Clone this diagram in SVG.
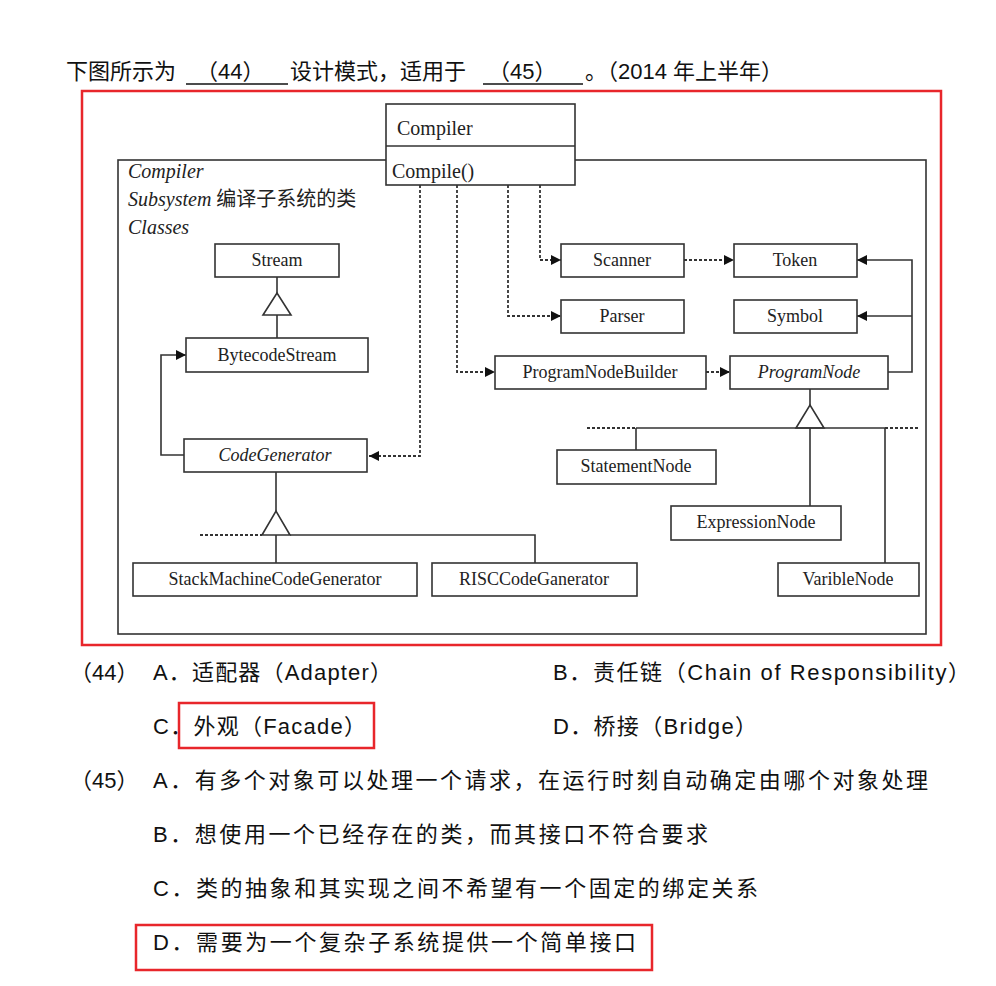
<svg xmlns="http://www.w3.org/2000/svg" width="996" height="986" viewBox="0 0 996 986">
<defs>
<style>
.t{font-family:"Liberation Sans","Noto Sans CJK SC",sans-serif;font-size:22px;fill:#111}
.n{font-family:"Liberation Serif","Noto Sans CJK SC",serif;font-size:18px;fill:#222;text-anchor:middle}
.i{font-style:italic}
.box{fill:#fff;stroke:#333;stroke-width:1.6}
.ln{fill:none;stroke:#333;stroke-width:1.6}
.dt{fill:none;stroke:#333;stroke-width:1.8;stroke-dasharray:3,2}
.red{fill:none;stroke:#e8262b;stroke-width:2.5}
</style>
<marker id="a" viewBox="0 0 10 10" refX="10" refY="5" markerWidth="10" markerHeight="10" markerUnits="userSpaceOnUse" orient="auto"><path d="M0,0L10,5L0,10z" fill="#111"/></marker>
</defs>
<rect width="996" height="986" fill="#fff"/>
<g id="title">
<text class="t" x="66" y="79">下图所示为<tspan x="196">（44）</tspan><tspan x="290">设计模式，适用于</tspan><tspan x="488">（45）</tspan><tspan x="585">。（2014 年上半年）</tspan></text>
<line x1="186" y1="84" x2="288" y2="84" stroke="#111" stroke-width="1.5"/>
<line x1="483" y1="84" x2="583" y2="84" stroke="#111" stroke-width="1.5"/>
</g>
<rect class="red" x="82" y="91" width="859" height="554"/>
<g id="frame">
<rect x="118" y="160" width="808" height="474" fill="none" stroke="#333" stroke-width="1.6"/>
<text class="n i" style="text-anchor:start;font-size:20px" x="128" y="178">Compiler</text>
<text class="n i" style="text-anchor:start;font-size:20px" x="128" y="206">Subsystem <tspan font-style="normal">编译子系统的类</tspan></text>
<text class="n i" style="text-anchor:start;font-size:20px" x="128" y="234">Classes</text>
</g>
<g id="connectors">
<path class="dt" d="M420,185V456H369" marker-end="url(#a)"/>
<path class="dt" d="M457,185V372H495" marker-end="url(#a)"/>
<path class="dt" d="M508,185V316H561" marker-end="url(#a)"/>
<path class="dt" d="M540,185V260H561" marker-end="url(#a)"/>
<path class="dt" d="M684,260H734" marker-end="url(#a)"/>
<path class="dt" d="M706,372H730" marker-end="url(#a)"/>
<path class="ln" d="M888,372H912V260H857" marker-end="url(#a)"/>
<path class="ln" d="M912,316H857" marker-end="url(#a)"/>
<path class="ln" d="M184,455H161V355H186" marker-end="url(#a)"/>
<path class="ln" d="M277,277V293M277,315V338"/>
<path class="ln" d="M263,315L277,293L291,315Z" fill="#fff"/>
<path class="ln" d="M276,472V511M276,535V563M290,535H535V563"/>
<path class="dt" d="M200,535H262"/>
<path class="ln" d="M262,535L276,511L290,535Z" fill="#fff"/>
<path class="ln" d="M810,389V405M636,428H885M636,428V450M810,428V506M885,428V563"/>
<path class="dt" d="M587,428H636M885,428H918"/>
<path class="ln" d="M796,428L810,405L824,428Z" fill="#fff"/>
</g>
<g id="compiler">
<rect class="box" x="386" y="104" width="189" height="81"/>
<line class="ln" x1="386" y1="146" x2="575" y2="146"/>
<text class="n" style="text-anchor:start;font-size:20px" x="397" y="135">Compiler</text>
<text class="n" style="text-anchor:start;font-size:20px" x="392" y="178">Compile()</text>
</g>
<g id="stream"><rect class="box" x="215" y="244" width="124" height="33"/><text class="n" x="277" y="266">Stream</text></g>
<g id="bytecodestream"><rect class="box" x="186" y="338" width="182" height="34"/><text class="n" x="277" y="361">BytecodeStream</text></g>
<g id="codegenerator"><rect class="box" x="184" y="439" width="183" height="33"/><text class="n i" x="275" y="461">CodeGenerator</text></g>
<g id="stackmachine"><rect class="box" x="133" y="563" width="284" height="33"/><text class="n" x="275" y="585">StackMachineCodeGenerator</text></g>
<g id="risc"><rect class="box" x="432" y="563" width="205" height="33"/><text class="n" x="534" y="585">RISCCodeGanerator</text></g>
<g id="scanner"><rect class="box" x="561" y="244" width="123" height="33"/><text class="n" x="622" y="266">Scanner</text></g>
<g id="token"><rect class="box" x="734" y="244" width="123" height="33"/><text class="n" x="795" y="266">Token</text></g>
<g id="parser"><rect class="box" x="561" y="300" width="123" height="33"/><text class="n" x="622" y="322">Parser</text></g>
<g id="symbol"><rect class="box" x="734" y="300" width="123" height="33"/><text class="n" x="795" y="322">Symbol</text></g>
<g id="pnb"><rect class="box" x="495" y="356" width="211" height="33"/><text class="n" x="600" y="378">ProgramNodeBuilder</text></g>
<g id="programnode"><rect class="box" x="730" y="356" width="158" height="33"/><text class="n i" x="809" y="378">ProgramNode</text></g>
<g id="statementnode"><rect class="box" x="557" y="450" width="159" height="34"/><text class="n" x="636" y="472">StatementNode</text></g>
<g id="expressionnode"><rect class="box" x="671" y="506" width="170" height="34"/><text class="n" x="756" y="528">ExpressionNode</text></g>
<g id="variblenode"><rect class="box" x="778" y="563" width="141" height="33"/><text class="n" x="848" y="585">VaribleNode</text></g>
<g id="options">
<text class="t" x="70" y="680">（44）</text>
<text class="t" x="153" y="680" textLength="239" lengthAdjust="spacing">A．适配器（Adapter）</text>
<text class="t" x="553" y="680" textLength="417" lengthAdjust="spacing">B．责任链（Chain of Responsibility）</text>
<text class="t" x="153" y="734" textLength="213" lengthAdjust="spacing">C．外观（Facade）</text>
<text class="t" x="553" y="734" textLength="204" lengthAdjust="spacing">D．桥接（Bridge）</text>
<text class="t" x="70" y="788">（45）</text>
<text class="t" x="153" y="788" textLength="775" lengthAdjust="spacing">A．有多个对象可以处理一个请求，在运行时刻自动确定由哪个对象处理</text>
<text class="t" x="153" y="842" textLength="555" lengthAdjust="spacing">B．想使用一个已经存在的类，而其接口不符合要求</text>
<text class="t" x="153" y="896" textLength="605" lengthAdjust="spacing">C．类的抽象和其实现之间不希望有一个固定的绑定关系</text>
<text class="t" x="153" y="950" textLength="483" lengthAdjust="spacing">D．需要为一个复杂子系统提供一个简单接口</text>
<rect class="red" x="179" y="703" width="195" height="45"/>
<rect class="red" x="136" y="925" width="516" height="45"/>
</g>
</svg>
